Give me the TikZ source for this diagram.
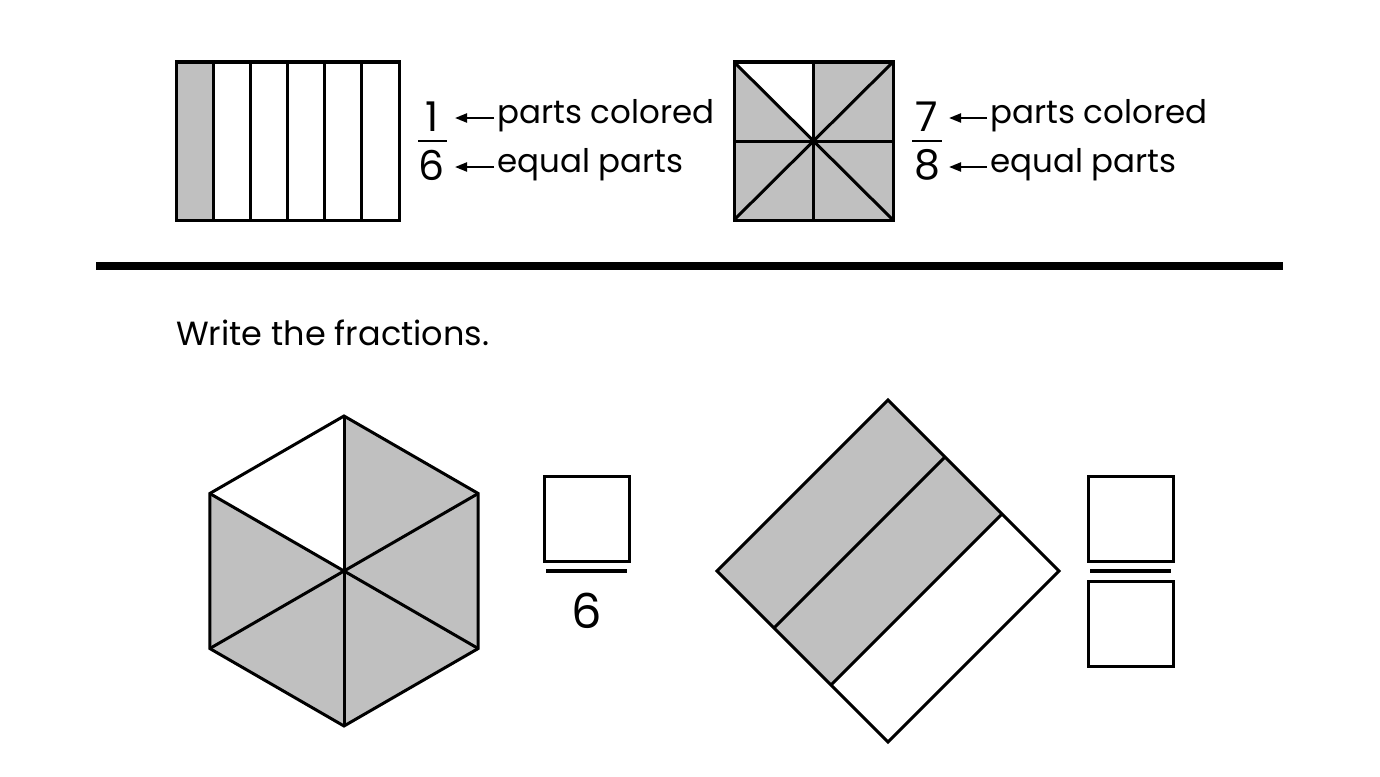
\documentclass[tikz,border=0pt]{standalone}
\usepackage{fontspec}
\setmainfont{Poppins}
\usetikzlibrary{arrows.meta}
\definecolor{partgray}{RGB}{192,192,192}
\begin{document}
\begin{tikzpicture}[x=1pt,y=-1pt,
  outline/.style={draw=black,line width=3pt,line join=miter},
  divline/.style={draw=black,line width=3pt},
  lbl/.style={font=\fontsize{32.5}{38}\selectfont,inner sep=0pt,anchor=west},
  digit/.style={font=\fontsize{41}{45}\selectfont,inner sep=0pt},
  arr/.style={line width=2.2pt,shorten <=3pt,-{Stealth[length=12pt,width=9pt,inset=0pt]}},
  fbar/.style={line width=2.5pt},
  ansbar/.style={line width=4.5pt},
  ansbox/.style={draw,line width=3pt,minimum size=85pt,inner sep=0pt},
]
\useasboundingbox (0,0) rectangle (1380,776);
\fill[white] (0,0) rectangle (1380,776);

% ---- top left: 1/6 rectangle ----
\fill[partgray] (176,62) rectangle (213.2,220);
\foreach \k in {1,...,5} {
  \draw[divline] ({176+37.17*\k},62) -- ({176+37.17*\k},220);
}
\draw[outline] (176,62) rectangle (399,220);

\node[digit] (n1) at (432,117) {1};
\node[digit] (d1) at (432,165) {6};
\draw[fbar] (418,141) -- (447,141);
\node[lbl] (pc1) at (497,116) {parts colored};
\node[lbl] (ep1) at (497,165) {equal parts};
\coordinate (tip1) at (455,118);
\coordinate (tip2) at (455,167);
\draw[arr] (pc1.west |- tip1) -- (tip1);
\draw[arr] (ep1.west |- tip2) -- (tip2);

% ---- top right: 7/8 square ----
\fill[partgray] (734,62) rectangle (893,220);
\fill[white] (734,62) -- (813,62) -- (813,141) -- cycle;
\draw[divline] (813,62) -- (813,220);
\draw[divline] (734,141) -- (893,141);
\draw[divline] (734,62) -- (893,220);
\draw[divline] (893,62) -- (734,220);
\draw[outline] (734,62) rectangle (893,220);

\node[digit] (n2) at (927,117) {7};
\node[digit] (d2) at (927,165) {8};
\draw[fbar] (912,141) -- (942,141);
\node[lbl] (pc2) at (990,116) {parts colored};
\node[lbl] (ep2) at (990,165) {equal parts};
\coordinate (tip3) at (949,118);
\coordinate (tip4) at (949,167);
\draw[arr] (pc2.west |- tip3) -- (tip3);
\draw[arr] (ep2.west |- tip4) -- (tip4);

% ---- separator ----
\draw[line width=8pt] (96,266) -- (1283,266);

\node[font=\fontsize{33.5}{38}\selectfont,inner sep=0pt,anchor=base west] (title) at (176,345) {Write the fractions.};

% ---- hexagon ----
\coordinate (hc) at (344,571);
\coordinate (h1) at (344,416);
\coordinate (h2) at (478.2,493.5);
\coordinate (h3) at (478.2,648.5);
\coordinate (h4) at (344,726);
\coordinate (h5) at (209.8,648.5);
\coordinate (h6) at (209.8,493.5);
\fill[partgray] (h1) -- (h2) -- (h3) -- (h4) -- (h5) -- (h6) -- cycle;
\fill[white] (h1) -- (h6) -- (hc) -- cycle;
\foreach \v in {h1,h2,h3,h4,h5,h6} { \draw[divline] (hc) -- (\v); }
\draw[outline] (h1) -- (h2) -- (h3) -- (h4) -- (h5) -- (h6) -- cycle;

\node[ansbox] (box1) at (586.5,518.5) {};
\draw[ansbar] (546,571) -- (627,571);
\node[font=\fontsize{48}{52}\selectfont,inner sep=0pt] (den1) at (586.5,611) {6};

% ---- diamond ----
\coordinate (dt) at (888,400);
\coordinate (dr) at (1059,571);
\coordinate (db) at (888,742);
\coordinate (dl) at (717,571);
\coordinate (s1) at (945,457);
\coordinate (s2) at (1002,514);
\coordinate (t1) at (774,628);
\coordinate (t2) at (831,685);
\fill[partgray] (dt) -- (s2) -- (t2) -- (dl) -- cycle;
\draw[divline] (s1) -- (t1);
\draw[divline] (s2) -- (t2);
\draw[outline] (dt) -- (dr) -- (db) -- (dl) -- cycle;

\node[ansbox] (box2) at (1130.5,518.5) {};
\draw[ansbar] (1090,571) -- (1171,571);
\node[ansbox] (box3) at (1130.5,623.5) {};
\end{tikzpicture}
\end{document}
